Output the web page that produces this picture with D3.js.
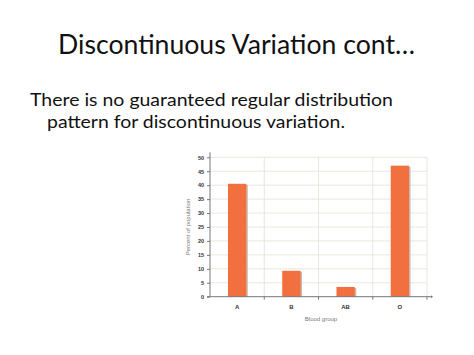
<!DOCTYPE html>
<html>
<head>
<meta charset="utf-8">
<script src="https://cdn.jsdelivr.net/npm/d3@7"></script>
<style>
  body { margin: 0; background: #fff; }
  svg { display: block; }
</style>
</head>
<body>
<svg id="slide" width="474" height="355"></svg>
<script>
// chart data
const groups = ['A', 'B', 'AB', 'O'];
const percents = [40.5, 9.3, 3.5, 47];
const yTicks = [0, 5, 10, 15, 20, 25, 30, 35, 40, 45, 50];

const title = 'Discontinuous Variation cont…';
const bodyLines = ['There is no guaranteed regular distribution', 'pattern for discontinuous variation.'];

let svg = d3.select('#slide');

// slide text
svg.append('text')
    .attr('x', 58).attr('y', 54)
    .attr('textLength', 357)
    .attr('lengthAdjust', 'spacingAndGlyphs')
    .style('font-family', 'Lato, sans-serif')
    .style('font-size', '27px')
    .attr('fill', '#111')
    .text(title);

// bullet paragraph, one text with a tspan per line
const bodyX = [30, 47];
const bodyW = [363, 298];
svg.append('text')
    .style('font-family', 'Lato, sans-serif')
    .style('font-size', '17.8px')
    .attr('fill', '#111')
    .selectAll('tspan')
    .data(bodyLines)
    .enter().append('tspan')
    .attr('x', (d, i) => bodyX[i])
    .attr('y', (d, i) => 106 + i * 21.5)
    .attr('textLength', (d, i) => bodyW[i])
    .attr('lengthAdjust', 'spacingAndGlyphs')
    .text(d => d);

// chart
const plotLeft = 210, plotRight = 427, plotTop = 157.3, plotBottom = 296.7;

let x = d3.scaleBand().domain(groups).range([plotLeft, plotRight]).paddingInner(0).paddingOuter(0);
let y = d3.scaleLinear().domain([0, 50]).range([plotBottom, plotTop]);

let g = svg.append('g');

// horizontal grid
g.selectAll('.hgrid')
    .data(yTicks.filter(t => t > 0))
    .enter().append('line')
    .attr('x1', plotLeft).attr('x2', plotRight)
    .attr('y1', d => y(d)).attr('y2', d => y(d))
    .attr('stroke', '#e4e1d6').attr('stroke-width', 0.8);

// vertical grid at band edges
g.selectAll('.vgrid')
    .data(groups.slice(1).concat(['end']))
    .enter().append('line')
    .attr('x1', d => d == 'end' ? plotRight : x(d))
    .attr('x2', d => d == 'end' ? plotRight : x(d))
    .attr('y1', plotTop).attr('y2', plotBottom)
    .attr('stroke', '#e4e1d6').attr('stroke-width', 0.8);

const barW = 18.3;

// bar shadows
g.selectAll('.shadow')
    .data(percents)
    .enter().append('rect')
    .attr('x', (d, i) => x(groups[i]) + x.bandwidth() / 2 - barW / 2 + 1.5)
    .attr('y', d => y(d) + 1)
    .attr('width', barW)
    .attr('height', d => plotBottom - y(d) - 1)
    .attr('fill', '#c9b8ae');

// bars
g.selectAll('.bar')
    .data(percents)
    .enter().append('rect')
    .attr('x', (d, i) => x(groups[i]) + x.bandwidth() / 2 - barW / 2)
    .attr('y', d => y(d))
    .attr('width', barW)
    .attr('height', d => plotBottom - y(d))
    .attr('fill', '#f2703f');

// y axis
let yAxis = d3.axisLeft(y).tickValues(yTicks).tickSize(3).tickPadding(3);
let ya = g.append('g').attr('transform', `translate(${plotLeft},0)`).call(yAxis);
ya.select('.domain').attr('d', `M0,${plotBottom}V${plotTop - 5}`).attr('stroke', '#777');
ya.selectAll('.tick line').attr('stroke', '#777');
ya.selectAll('text')
    .style('font-family', 'Liberation Sans, Arial, sans-serif')
    .style('font-size', '5.5px').style('font-weight', 'bold')
    .attr('fill', '#333');

// x axis
let xa = g.append('g').attr('transform', `translate(0,${plotBottom})`);
xa.append('line')
    .attr('x1', plotLeft - 3).attr('x2', plotRight + 4)
    .attr('stroke', '#777');
xa.append('path')
    .attr('d', `M${plotRight + 4},-1.5L${plotRight + 6},0L${plotRight + 4},1.5`)
    .attr('fill', '#777');
xa.selectAll('.xt')
    .data(groups.slice(1).concat(['end']))
    .enter().append('line')
    .attr('x1', d => d == 'end' ? plotRight : x(d))
    .attr('x2', d => d == 'end' ? plotRight : x(d))
    .attr('y1', 0).attr('y2', 3)
    .attr('stroke', '#777');
xa.selectAll('.xl')
    .data(groups)
    .enter().append('text')
    .attr('x', d => x(d) + x.bandwidth() / 2)
    .attr('y', 12)
    .attr('text-anchor', 'middle')
    .style('font-family', 'Liberation Sans, Arial, sans-serif')
    .style('font-size', '6px').style('font-weight', 'bold')
    .attr('fill', '#333')
    .text(d => d);

// axis titles
g.append('text')
    .attr('x', 321).attr('y', 321)
    .attr('text-anchor', 'middle')
    .style('font-family', 'Liberation Sans, Arial, sans-serif')
    .style('font-size', '6px')
    .attr('fill', '#777')
    .text('Blood group');

g.append('text')
    .attr('transform', 'translate(190,227) rotate(-90)')
    .attr('text-anchor', 'middle')
    .style('font-family', 'Liberation Sans, Arial, sans-serif')
    .style('font-size', '6px')
    .attr('fill', '#777')
    .text('Percent of population');
</script>
</body>
</html>
